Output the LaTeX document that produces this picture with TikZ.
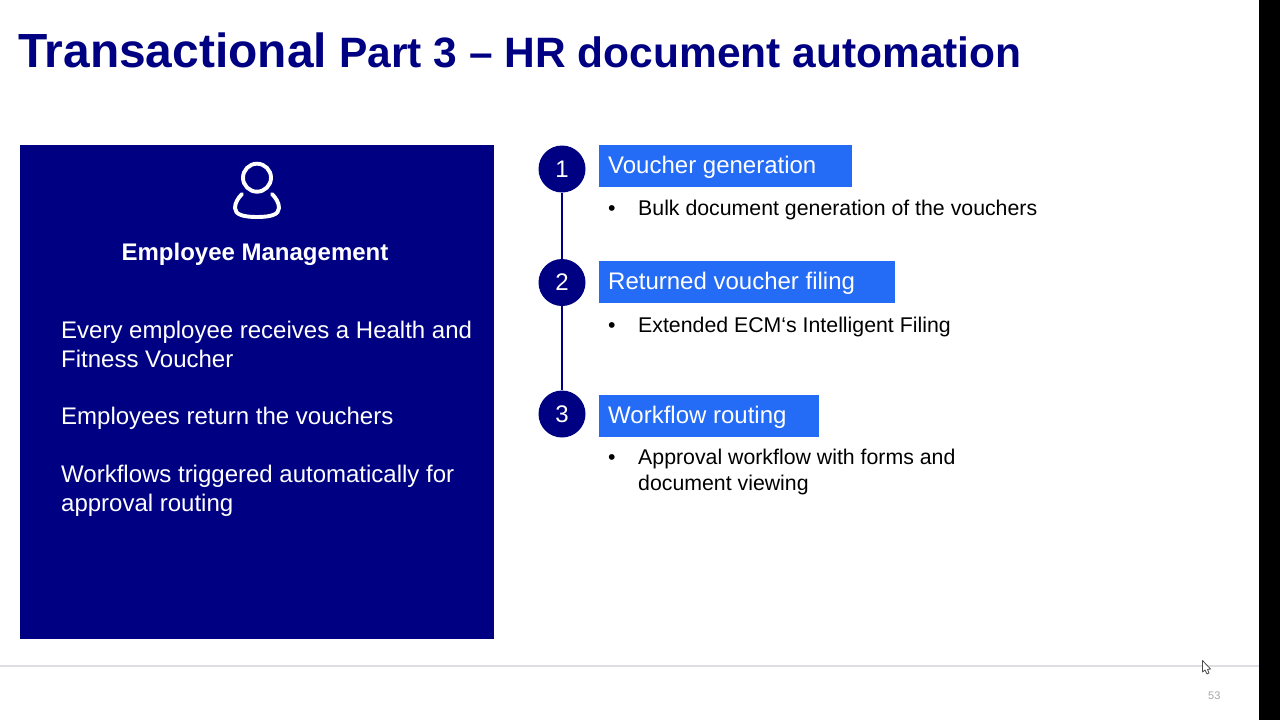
\documentclass[tikz,border=0pt]{standalone}
\usepackage{fontspec}
\setmainfont{Liberation Sans}
\definecolor{navy}{RGB}{0,0,130}
\definecolor{blueb}{RGB}{36,107,245}
\definecolor{rulec}{RGB}{222,222,226}
\newcommand{\fs}[1]{\fontsize{#1}{#1}\selectfont}
\tikzset{
 txt/.style={inner sep=0pt,anchor=base west,font=\fs{24}},
 white txt/.style={txt,text=white},
 head/.style={fill=blueb,inner sep=0pt,minimum height=42pt,anchor=north west},
 num/.style={circle,fill=navy,text=white,minimum size=47pt,inner sep=0pt,font=\fs{24}},
 body/.style={txt,font=\fs{21.3},text=black},
 link/.style={navy,line width=2pt},
}
\begin{document}
\begin{tikzpicture}[x=1pt,y=-1pt]
\useasboundingbox (0,0) rectangle (1280,720);
\fill[white] (0,0) rectangle (1280,720);
\fill[black] (1259,0) rectangle (1280,720);
\draw[rulec,line width=1.2pt] (0,666) -- (1259,666);
\node[txt,text=navy,font=\bfseries\fs{47.9}] (t1) at (18,67.3) {Transactional};
\node[txt,text=navy,font=\bfseries\fs{42.5}] (t2) at (339,67.3) {Part 3 – HR document automation};
\fill[navy] (20,145) rectangle (493.5,639);
% person icon
\draw[white,line width=3.9pt] (257,177.7) circle (14);
\draw[white,line width=3.9pt,line cap=round] (242,194) .. controls (238,198) and (235,203) .. (235,208) .. controls (235,214.5) and (243,217) .. (257,217) .. controls (271,217) and (279,214.5) .. (279,208) .. controls (279,203) and (276,198) .. (272,194);
\node[white txt,anchor=base,font=\bfseries\fs{24}] (em) at (255,260) {Employee Management};
\node[white txt] (l1) at (61,338) {Every employee receives a Health and};
\node[white txt] (l2) at (61,367) {Fitness Voucher};
\node[white txt] (l3) at (61,424) {Employees return the vouchers};
\node[white txt] (l4) at (61,482) {Workflows triggered automatically for};
\node[white txt] (l5) at (61,511) {approval routing};
\node[num] (n1) at (562,169) {1};
\node[num] (n2) at (562,282.5) {2};
\node[num] (n3) at (562,414) {3};
\draw[link] (n1) -- (n2);
\draw[link] (n2) -- (n3);
\node[head,minimum width=253pt] (h1) at (599,145) {};
\node[head,minimum width=296pt] (h2) at (599,261) {};
\node[head,minimum width=219.5pt] (h3) at (599,395) {};
\node[white txt] at (608,173.5) {Voucher generation};
\node[white txt] at (608,289.5) {Returned voucher filing};
\node[white txt] at (608,423.5) {Workflow routing};
\node[body] at (608,215) {•};
\node[body] at (638,215) {Bulk document generation of the vouchers};
\node[body] at (608,332) {•};
\node[body] at (638,332) {Extended ECM‘s Intelligent Filing};
\node[body] at (608,464) {•};
\node[body] at (638,464) {Approval workflow with forms and};
\node[body] at (638,490) {document viewing};
\node[txt,font=\fs{11},text=black!35] at (1208,699) {53};
\draw[black!70,fill=white,line width=0.8pt,line join=round] (1202.5,660.5) -- (1202.5,672) -- (1205,670) -- (1207,674) -- (1209,673) -- (1207.5,669.5) -- (1210.5,669) -- cycle;
\end{tikzpicture}
\end{document}
